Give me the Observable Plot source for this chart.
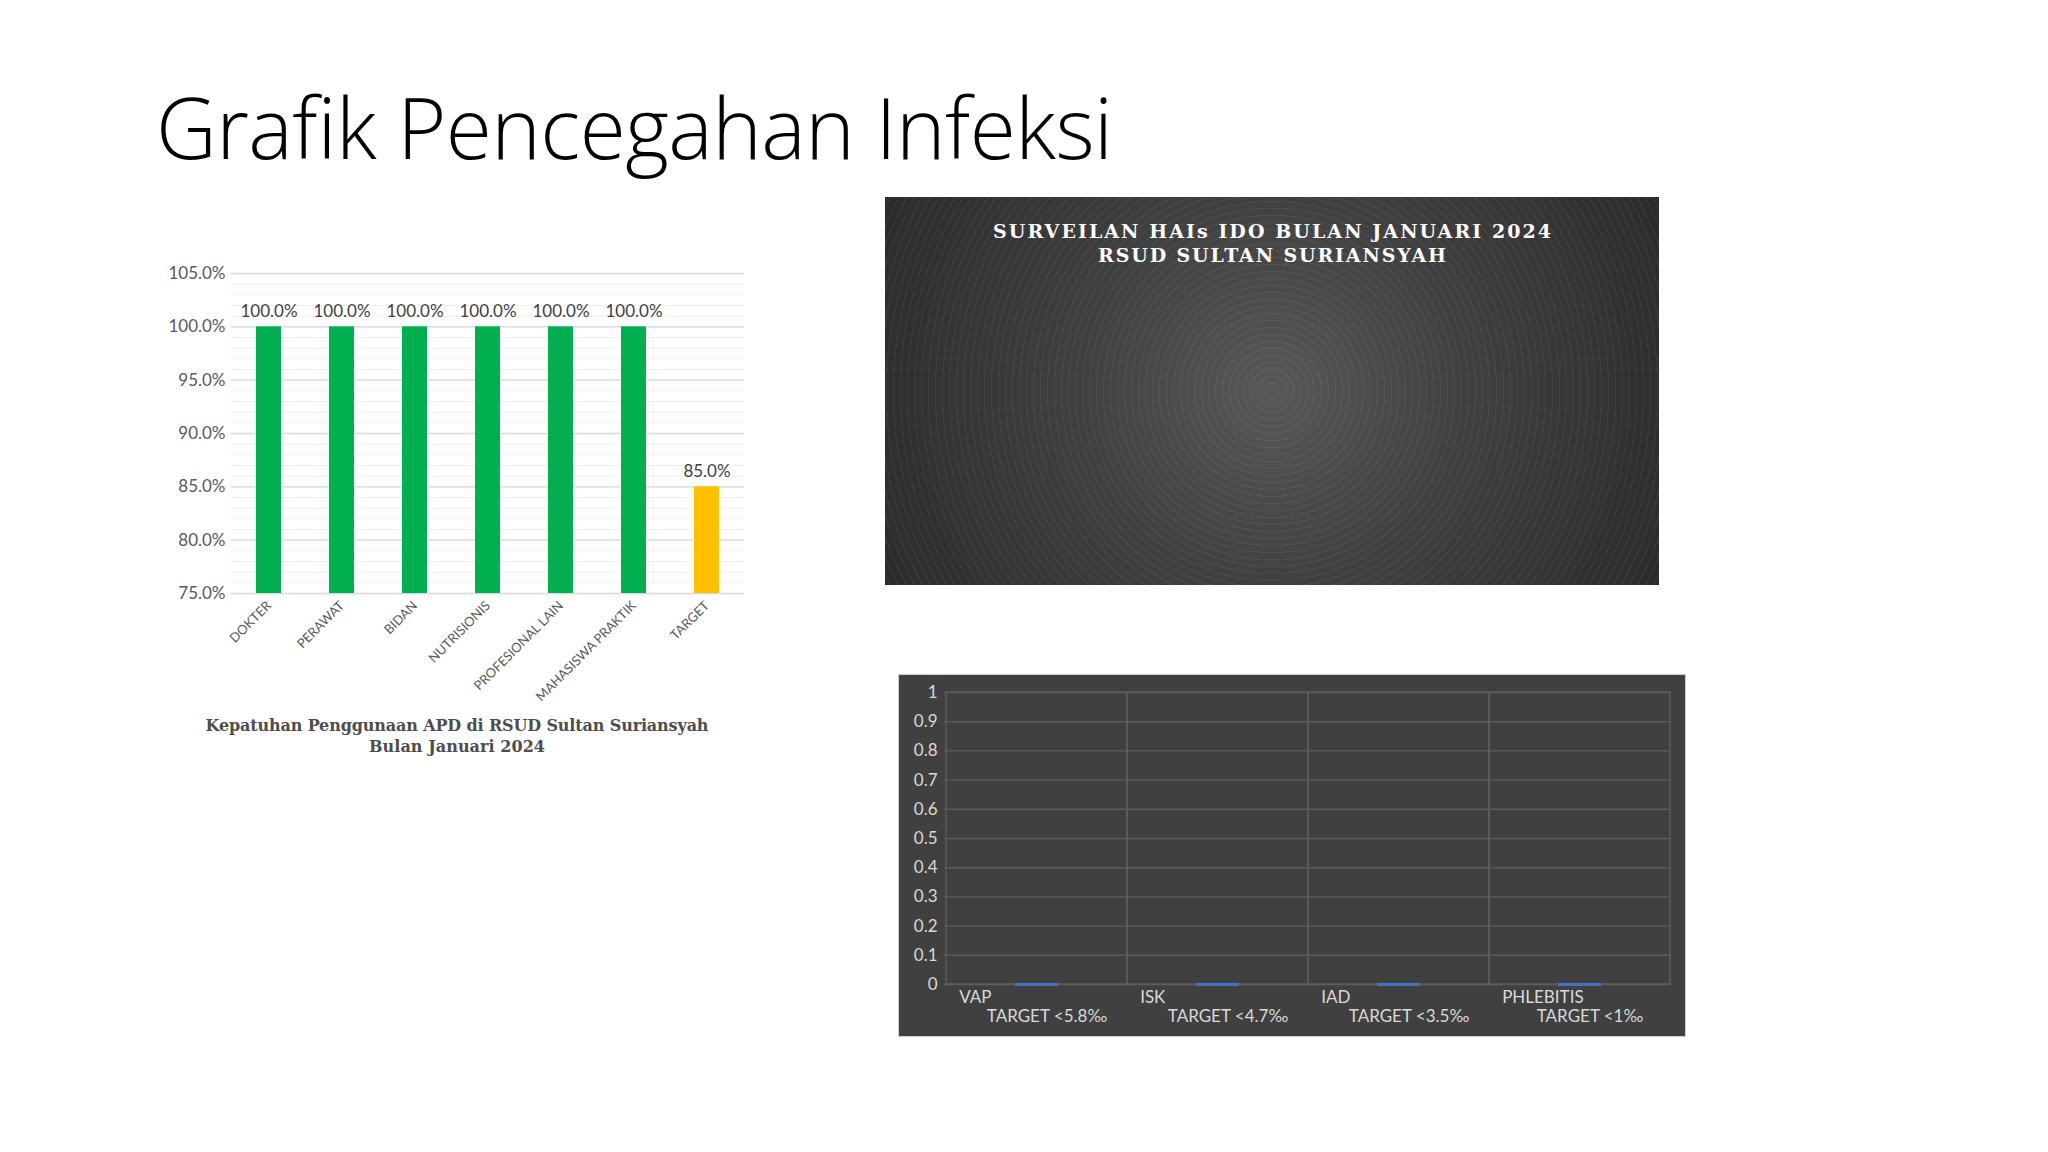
<!DOCTYPE html>
<html><head><meta charset="utf-8">
<script src="https://cdn.jsdelivr.net/npm/d3@7"></script>
<script src="https://cdn.jsdelivr.net/npm/@observablehq/plot@0.6"></script>
<style>
html,body{margin:0;padding:0;background:#fff;}
#page{position:relative;width:2048px;height:1152px;overflow:hidden;background:#fff;}
.abs{position:absolute;}
#panel{left:885px;top:197px;width:774px;height:388px;
  background:
    repeating-radial-gradient(circle at 50% 50%, rgba(255,255,255,0.05) 0px, rgba(255,255,255,0.05) 1px, rgba(255,255,255,0) 1.5px, rgba(255,255,255,0) 7px),
    radial-gradient(circle at 50% 50%, #585858 0%, #404040 45%, #2b2b2b 100%);}
#apd{left:150px;top:250px;}
#hais{left:898px;top:674px;border:1px solid #cfcfcf;line-height:0;}
#overlay{left:0;top:0;pointer-events:none;}
</style></head>
<body><div id="page">
<div id="panel" class="abs"></div>
<div id="apd" class="abs"></div>
<div id="hais" class="abs"></div>
<svg id="overlay" class="abs" width="2048" height="1152">
  <text x="156" y="159" font-family="Open Sans" font-weight="300" font-size="84" fill="#000" textLength="957" lengthAdjust="spacing">Grafik Pencegahan Infeksi</text>
  <text x="1272" y="238" text-anchor="middle" font-family="DejaVu Serif" font-weight="bold" font-size="19" fill="#fff" textLength="558" lengthAdjust="spacing">SURVEILAN HAIs IDO BULAN JANUARI 2024</text>
  <text x="1272" y="262" text-anchor="middle" font-family="DejaVu Serif" font-weight="bold" font-size="19" fill="#fff" textLength="348" lengthAdjust="spacing">RSUD SULTAN SURIANSYAH</text>
  <text x="457" y="731" text-anchor="middle" font-family="DejaVu Serif" font-weight="bold" font-size="16" fill="#4d4d4d" textLength="503" lengthAdjust="spacing">Kepatuhan Penggunaan APD di RSUD Sultan Suriansyah</text>
  <text x="457" y="752" text-anchor="middle" font-family="DejaVu Serif" font-weight="bold" font-size="16" fill="#4d4d4d" textLength="176" lengthAdjust="spacing">Bulan Januari 2024</text>
</svg>
</div>
<script>
// ---- Data: Kepatuhan Penggunaan APD ----
const apdCategories = ["DOKTER", "PERAWAT", "BIDAN", "NUTRISIONIS", "PROFESIONAL LAIN", "MAHASISWA PRAKTIK", "TARGET"];
const apdValues = [1.0, 1.0, 1.0, 1.0, 1.0, 1.0, 0.85];
const apdTicks = [0.75, 0.80, 0.85, 0.90, 0.95, 1.00, 1.05];
const apdDomain = [0.75, 1.05];

// ---- Data: Surveilan HAIs ----
const haisCategories = ["VAP", "ISK", "IAD", "PHLEBITIS"];
const haisTargets = ["TARGET <5.8‰", "TARGET <4.7‰", "TARGET <3.5‰", "TARGET <1‰"];
const haisValues = [0, 0, 0, 0];
const haisTicks = [0, 0.1, 0.2, 0.3, 0.4, 0.5, 0.6, 0.7, 0.8, 0.9, 1];
const haisDomain = [0, 1];

const pct = d3.format(".1%");

// ---- Left chart ----
const apdData = apdCategories.map((c, i) => ({category: c, value: apdValues[i]}));
const apdMinor = d3.range(Math.round(apdDomain[0]*100), Math.round(apdDomain[1]*100) + 1).map(d => d / 100);
const apd = Plot.plot({
  width: 620, height: 440,
  marginLeft: 81, marginRight: 26, marginTop: 23, marginBottom: 97,
  style: {fontFamily: "Lato", background: "transparent", overflow: "visible"},
  x: {domain: apdCategories, padding: 0},
  y: {domain: apdDomain},
  marks: [
    Plot.gridY(apdMinor, {stroke: "#efefef", strokeOpacity: 1}),
    Plot.gridY(apdTicks, {stroke: "#d9d9d9", strokeOpacity: 1, strokeWidth: 1.4}),
    Plot.barY(apdData.filter(d => d.category !== "TARGET"), {x: "category", y: "value", fill: "#00b050", insetLeft: 24, insetRight: 24, clip: true}),
    Plot.barY(apdData.filter(d => d.category === "TARGET"), {x: "category", y: "value", fill: "#ffc000", insetLeft: 24, insetRight: 24, clip: true}),
    Plot.text(apdData, {x: "category", y: "value", text: d => pct(d.value), dy: -15, fill: "#404040", fontSize: 17}),
    Plot.axisY({ticks: apdTicks, tickFormat: pct, tickSize: 0, tickPadding: 6, fontSize: 17, fill: "#595959", label: null}),
    Plot.axisX({tickRotate: -45, tickSize: 0, tickPadding: 10, fontSize: 13, fill: "#595959", label: null})
  ]
});
document.getElementById("apd").appendChild(apd);

// ---- Bottom chart ----
const haisData = haisCategories.map((c, i) => ({category: c, target: haisTargets[i], value: haisValues[i]}));
const hW = 786, hH = 361, hML = 45, hMR = 14;
const bw = (hW - hML - hMR) / haisCategories.length;
const grid = "#5d5d5d";
const hais = Plot.plot({
  width: hW, height: hH,
  marginLeft: hML, marginRight: hMR, marginTop: 17, marginBottom: 52,
  style: {fontFamily: "Lato", background: "#404040", color: "#d9d9d9", overflow: "visible"},
  x: {domain: haisCategories, padding: 0, axis: null},
  y: {domain: haisDomain},
  marks: [
    Plot.gridY(haisTicks, {stroke: grid, strokeOpacity: 1, strokeWidth: 1.4}),
    Plot.barY(haisCategories, {x: d => d, y1: () => haisDomain[0], y2: () => haisDomain[1], fill: "none", stroke: grid, strokeWidth: 1.4}),
    Plot.tickY(haisData, {x: "category", y: "value", stroke: "#4472c4", strokeWidth: 3, insetLeft: 69, insetRight: 69}),
    Plot.axisY({ticks: haisTicks, tickFormat: d => String(+d.toFixed(1)), tickSize: 0, tickPadding: 7, fontSize: 17, fill: "#d9d9d9", label: null}),
    Plot.text(haisData, {x: "category", text: "category", frameAnchor: "bottom", dy: 18, dx: -bw / 2 + 13, textAnchor: "start", fontSize: 17, fill: "#d9d9d9"}),
    Plot.text(haisData, {x: "category", text: "target", frameAnchor: "bottom", dy: 37, dx: 10, fontSize: 17, fill: "#d9d9d9"})
  ]
});
document.getElementById("hais").appendChild(hais);
</script>
</body></html>
